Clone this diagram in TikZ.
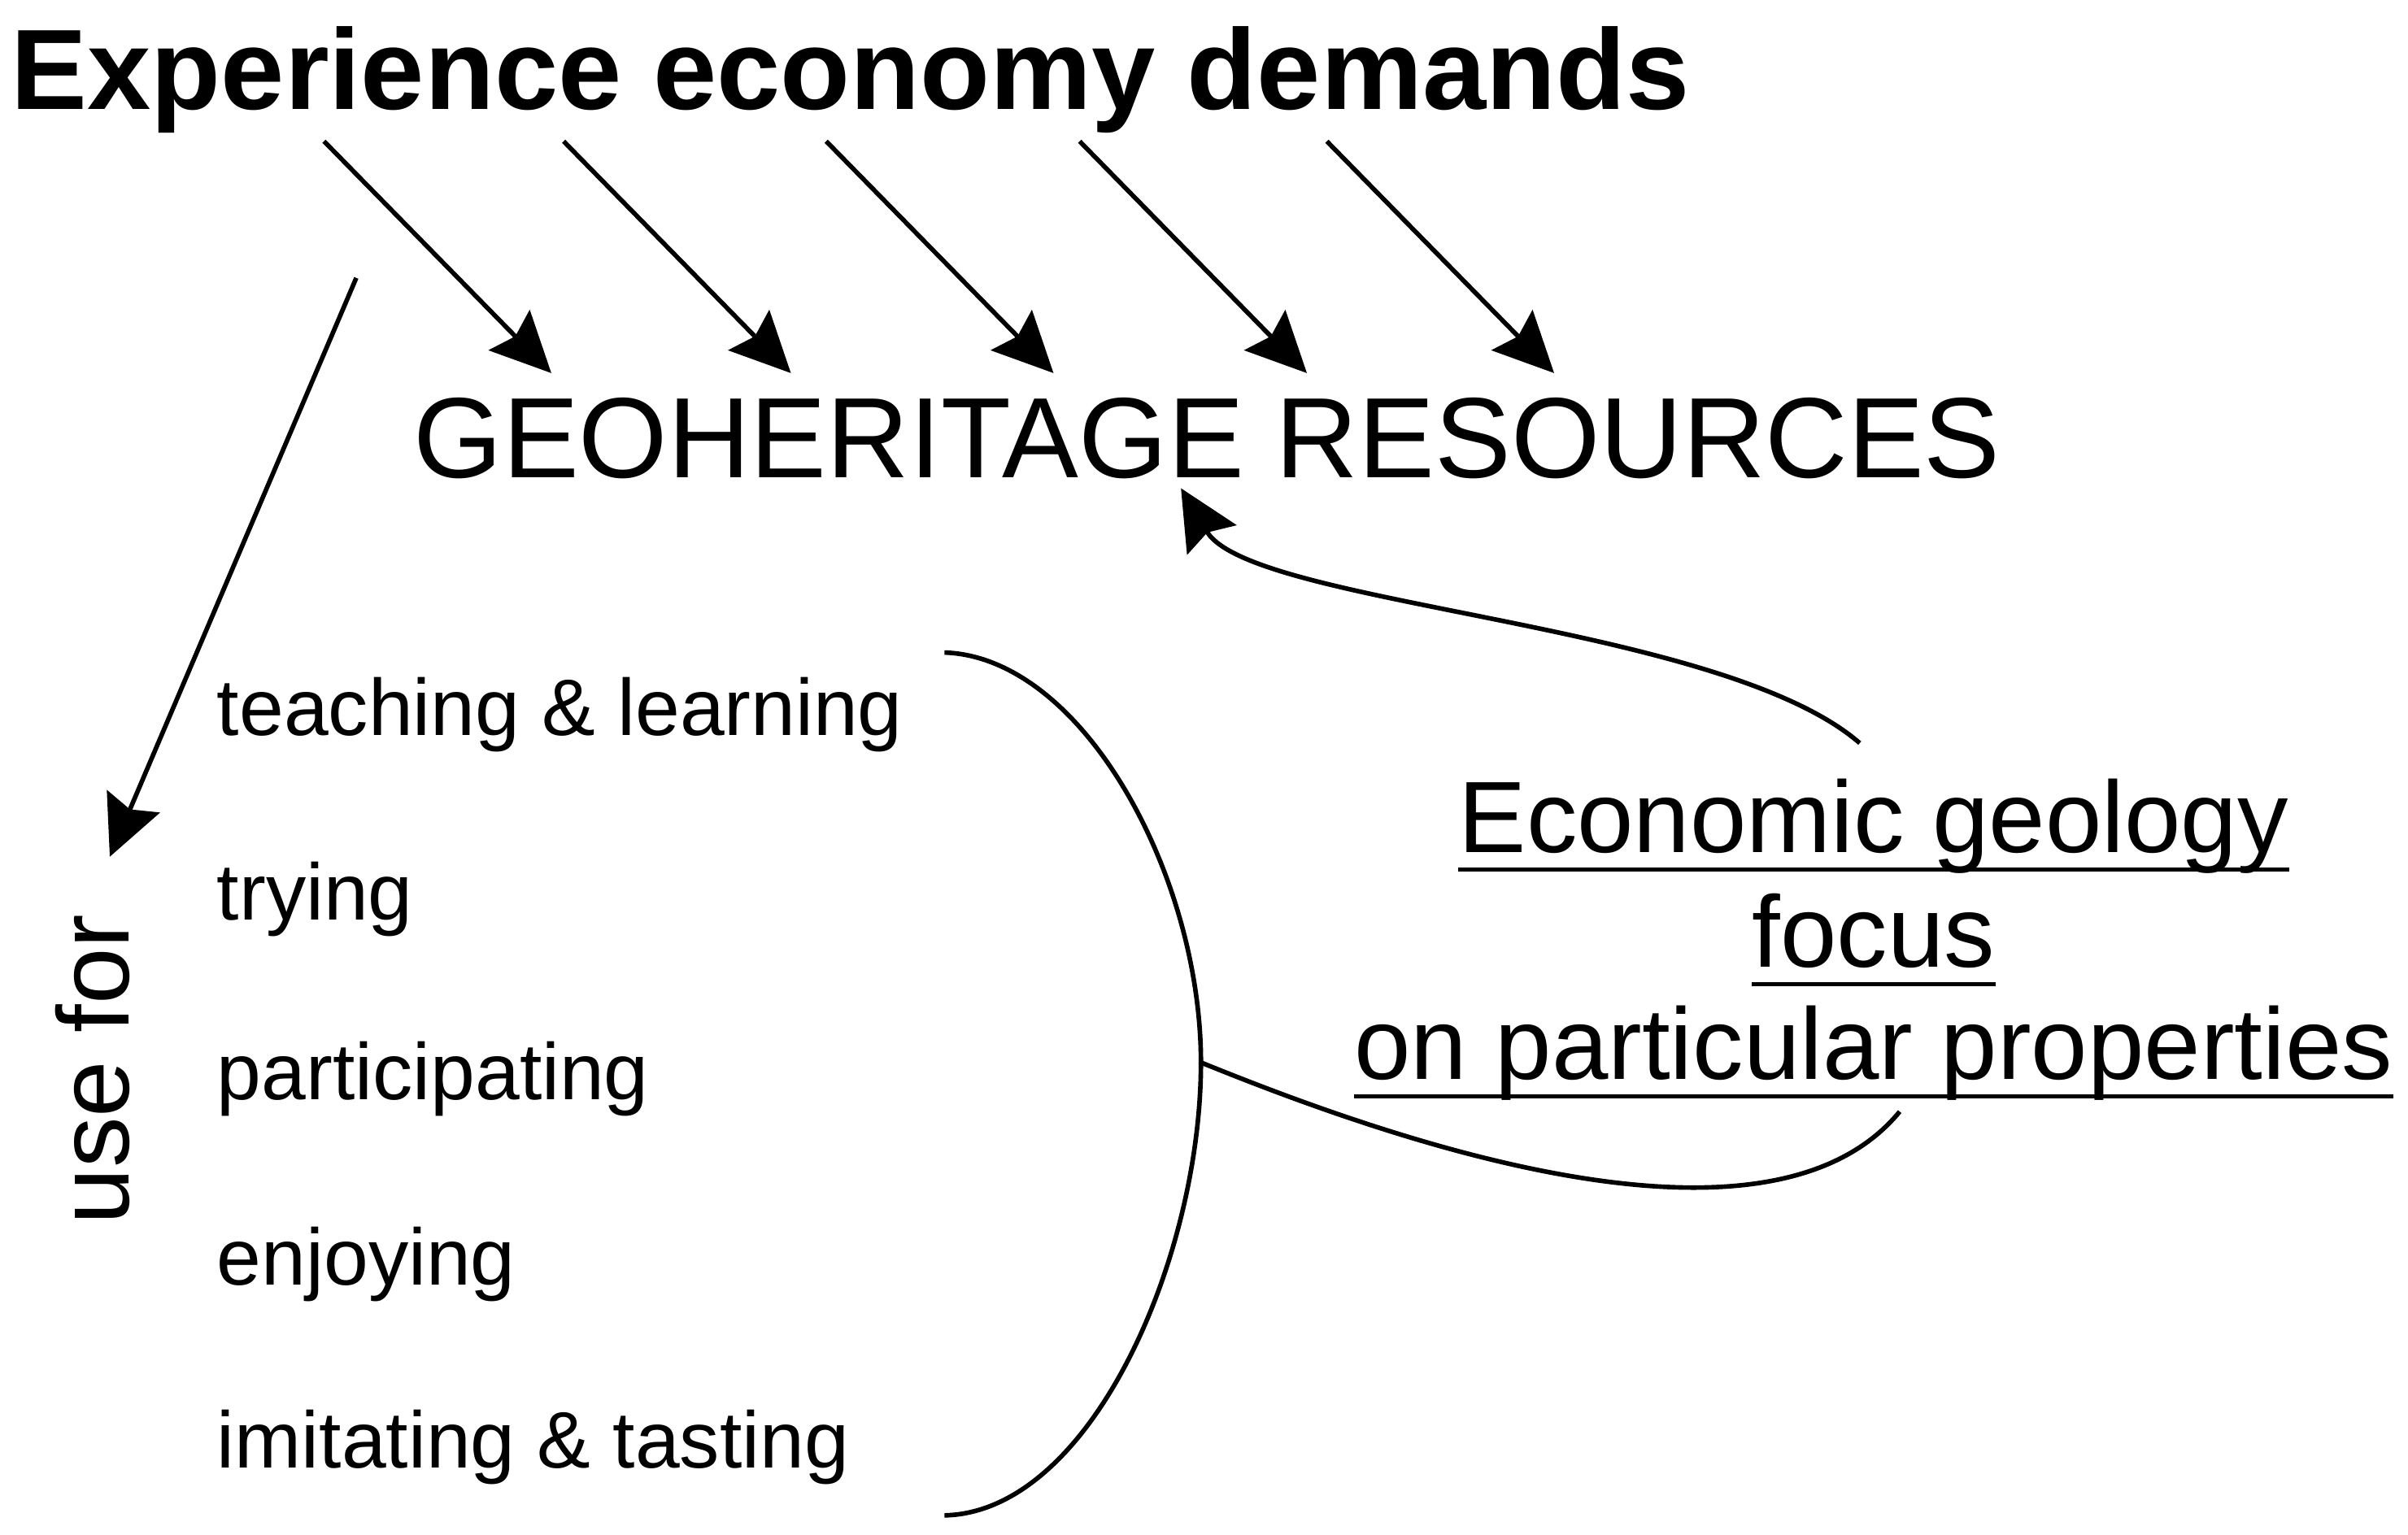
\documentclass[tikz,border=0pt]{standalone}
\usepackage{fontspec}
\setmainfont{Liberation Sans}
\usetikzlibrary{arrows.meta}
\tikzstyle{line}=[line width=1.6pt]
\tikzstyle{arr}=[line, -{Stealth[length=21pt, width=20pt, inset=3pt]}]
\tikzstyle{underline}=[line width=1.4pt]
\tikzstyle{headline}=[inner sep=0pt, anchor=base west, font=\bfseries\fontsize{40}{48}\selectfont]
\tikzstyle{resource}=[inner sep=0pt, anchor=base west, font=\fontsize{40}{48}\selectfont]
\tikzstyle{activity}=[inner sep=0pt, anchor=base west, font=\fontsize{28}{34}\selectfont]
\tikzstyle{focusline}=[inner sep=0pt, anchor=base, font=\fontsize{35.5}{42}\selectfont]

\begin{document}
\begin{tikzpicture}[x=0.01888cm, y=-0.01888cm]
        \useasboundingbox (0,0) rectangle (1568,999.3);
        \node[headline] (dem) at (7,71) {Experience economy demands};
        \node[resource] (geo) at (269,311) {GEOHERITAGE RESOURCES};
        \node[activity] (teach) at (141,479) {teaching \& learning};
        \node[activity] (try)   at (141,599) {trying};
        \node[activity] (part)  at (141,716) {participating};
        \node[activity] (enjoy) at (141,837) {enjoying};
        \node[activity] (imit)  at (141,956) {imitating \& tasting};
        \node[focusline, rotate=90] (use) at (84,696.5) {use for};
        \node[focusline] (eco)  at (1220,555) {Economic geology};
        \node[focusline] (foc)  at (1220,630) {focus};
        \node[focusline] (prop) at (1220,703) {on particular properties};
        \draw[underline] ([yshift=-6pt]eco.base west) -- ([yshift=-6pt]eco.base east);
        \draw[underline] ([yshift=-6pt]foc.base west) -- ([yshift=-6pt]foc.base east);
        \draw[underline] ([yshift=-6pt]prop.base west) -- ([yshift=-6pt]prop.base east);
        \foreach \x/\n in {211/1, 367/2, 538/3, 703/4, 864/5} {
            \coordinate (d\n) at (\x,92);
            \coordinate (g\n) at (\x+148,243);
            \draw[arr] (d\n) -- (g\n);
        }
        \coordinate (usestart) at (232,181);
        \coordinate (usetip) at (71.5,558);
        \draw[arr] (usestart) -- (usetip);
        \coordinate (ecotop) at (1211,484);
        \coordinate (geobot) at (769,318);
        \draw[arr] (ecotop) .. controls (1120,405) and (815,395) .. (geobot);
        \coordinate (btop) at (615,425);
        \coordinate (bmid) at (782,692);
        \coordinate (bbot) at (615,987);
        \coordinate (tail) at (1237,724);
        \draw[line] (btop) .. controls (705,428) and (782,570) .. (bmid)
                    .. controls (782,820) and (710,985) .. (bbot);
        \draw[line] (bmid) .. controls (900,740) and (1150,830) .. (tail);
    \end{tikzpicture}
\end{document}
